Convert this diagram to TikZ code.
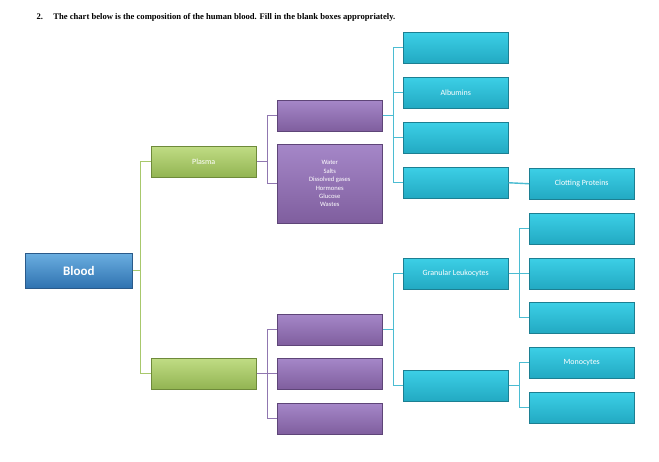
\documentclass[tikz,border=0pt]{standalone}
\usepackage{fontspec}
\setmainfont{Carlito}
\newfontfamily\titlefont{Liberation Serif}
\begin{document}
\begin{tikzpicture}[x=1pt,y=-1pt,
 box/.style={anchor=north west,minimum width=105pt,minimum height=31pt,inner sep=0pt,text=white,font=\fontsize{8}{9.5}\selectfont,align=center,draw=#1!60!black,line width=0.5pt},
 cy/.style={box=cyan,top color=cyanT,bottom color=cyanB,draw=cyanD},
 pu/.style={box=violet,top color=purT,bottom color=purB,draw=purD},
 gr/.style={box=green,top color=grT,bottom color=grB,draw=grD},
 cl/.style={line width=1.4pt,draw=cyanL},
 pl/.style={line width=1.4pt,draw=purL},
 gl/.style={line width=1.4pt,draw=grL}]
\definecolor{cyanT}{HTML}{3CCFE6}\definecolor{cyanB}{HTML}{22A9C2}\definecolor{cyanD}{HTML}{1C7F92}\definecolor{cyanL}{HTML}{4BBCD2}
\definecolor{purT}{HTML}{A587C8}\definecolor{purB}{HTML}{7F5E9E}\definecolor{purD}{HTML}{5E4578}\definecolor{purL}{HTML}{9077B0}
\definecolor{grT}{HTML}{C0DC84}\definecolor{grB}{HTML}{92B452}\definecolor{grD}{HTML}{6E8A3A}\definecolor{grL}{HTML}{A8C86C}
\definecolor{blT}{HTML}{6AAEE0}\definecolor{blB}{HTML}{2F72B0}\definecolor{blD}{HTML}{2A5A8A}
\useasboundingbox[fill=white] (0,0) rectangle (659,462);
\node[anchor=west,font=\titlefont\bfseries\fontsize{8.6}{10}\selectfont] (title) at (33,17) {2.\hspace{1.2em}The chart below is the composition of the human blood. Fill in the blank boxes appropriately.};
\node[box=blue,top color=blT,bottom color=blB,draw=blD,minimum width=107pt,minimum height=35pt,font=\bfseries\fontsize{13}{15}\selectfont] (blood) at (25,253) {Blood};
\node[gr] (plasma) at (151,146) {Plasma};
\node[gr] (g2) at (151,358) {};
\node[pu] (p1) at (277,100) {};
\node[pu,minimum height=79pt,font=\fontsize{6.6}{8.4}\selectfont] (p2) at (277,144) {Water\\Salts\\Dissolved gases\\Hormones\\Glucose\\Wastes};
\node[pu] (p3) at (277,314) {};
\node[pu] (p4) at (277,358) {};
\node[pu] (p5) at (277,403) {};
\node[cy] (c1) at (403,32) {};
\node[cy] (c2) at (403,77) {Albumins};
\node[cy] (c3) at (403,122) {};
\node[cy] (c4) at (403,167) {};
\node[cy] (gl) at (403,258) {Granular Leukocytes};
\node[cy] (c6) at (403,370) {};
\node[cy] (d1) at (529,168) {Clotting Proteins};
\node[cy] (d2) at (529,213) {};
\node[cy] (d3) at (529,258) {};
\node[cy] (d4) at (529,302) {};
\node[cy] (d5) at (529,347) {Monocytes};
\node[cy] (d6) at (529,392) {};
\draw[gl] (blood.east) -- ++(8,0) |- (plasma.west);
\draw[gl] (blood.east) -- ++(8,0) |- (g2.west);
\draw[pl] (plasma.east) -- ++(11,0) |- (p1.west);
\draw[pl] (plasma.east) -- ++(11,0) |- (p2.west);
\draw[pl] (g2.east) -- ++(11,0) |- (p3.west);
\draw[pl] (g2.east) -- ++(11,0) |- (p4.west);
\draw[pl] (g2.east) -- ++(11,0) |- (p5.west);
\foreach \c in {c1,c2,c3,c4} \draw[cl] (p1.east) -- ++(11,0) |- (\c.west);
\draw[cl] (c4.east) -- (d1.west);
\draw[cl] (p3.east) -- ++(11,0) |- (gl.west);
\draw[cl] (p3.east) -- ++(11,0) |- (c6.west);
\foreach \d in {d2,d3,d4} \draw[cl] (gl.east) -- ++(11,0) |- (\d.west);
\foreach \d in {d5,d6} \draw[cl] (c6.east) -- ++(11,0) |- (\d.west);
\end{tikzpicture}
\end{document}
